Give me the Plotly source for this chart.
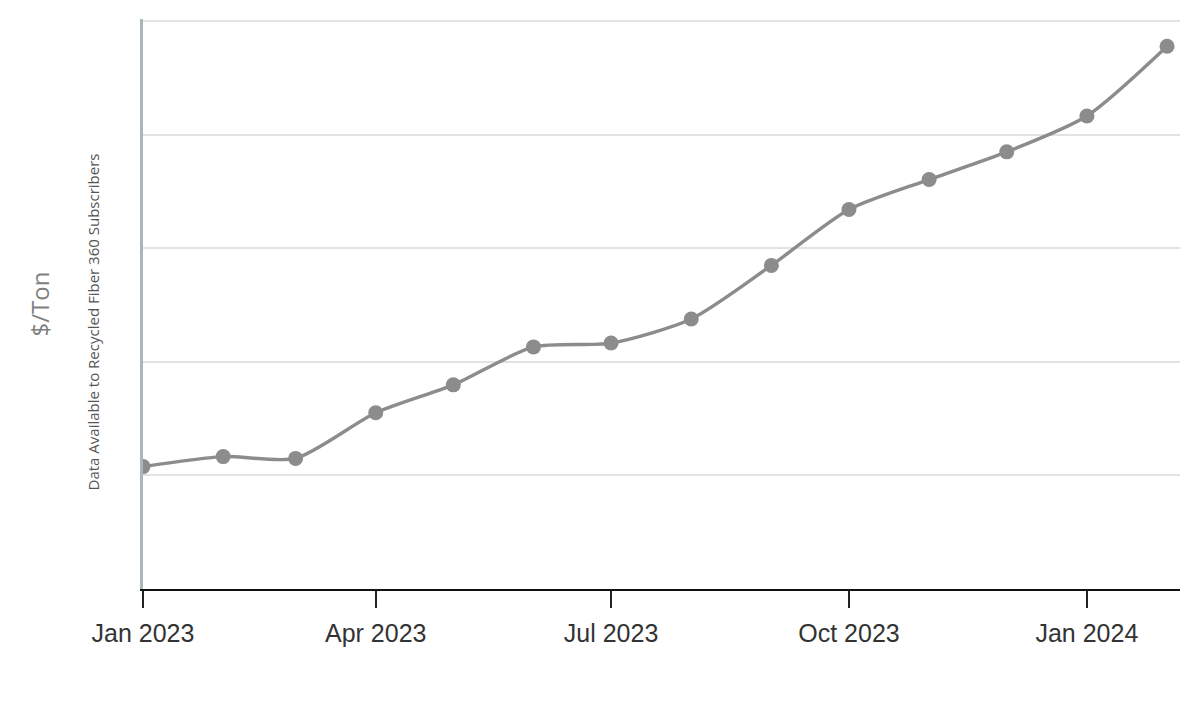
import plotly.graph_objects as go

# monthly price index ($/Ton)
months = ["2023-01-01", "2023-02-01", "2023-03-01", "2023-04-01", "2023-05-01",
          "2023-06-01", "2023-07-01", "2023-08-01", "2023-09-01", "2023-10-01",
          "2023-11-01", "2023-12-01", "2024-01-01", "2024-02-01"]
prices = [53.9, 58.3, 57.5, 77.6, 89.9, 106.6, 108.3, 118.9, 142.5, 167.1,
          180.3, 192.5, 208.3, 239.0]

tick_vals = ["2023-01-01", "2023-04-01", "2023-07-01", "2023-10-01", "2024-01-01"]
tick_text = ["Jan 2023", "Apr 2023", "Jul 2023", "Oct 2023", "Jan 2024"]

fig = go.Figure()
fig.add_trace(go.Scatter(
    x=months, y=prices, mode="lines+markers",
    line=dict(color="#8c8c8c", width=3.4, shape="spline", smoothing=0.7),
    marker=dict(color="#8c8c8c", size=15),
    hoverinfo="x+y", showlegend=False))

fig.update_layout(
    width=1200, height=706,
    margin=dict(l=135, r=28, t=11, b=125),
    plot_bgcolor="white", paper_bgcolor="white",
    font=dict(family="Liberation Sans, Arial, sans-serif", color="#333333"),
    xaxis=dict(
        range=["2023-01-01", "2024-02-06"],
        tickvals=tick_vals, ticktext=tick_text,
        tickfont=dict(size=25, color="#333333"),
        ticks="outside", ticklen=17, tickwidth=2, tickcolor="#222222",
        ticklabelstandoff=4,
        showline=True, linecolor="#111111", linewidth=2,
        showgrid=False, zeroline=False),
    yaxis=dict(
        range=[0, 251], tickvals=[50, 100, 150, 200, 250], showticklabels=False,
        showgrid=True, gridcolor="#e2e2e2", gridwidth=1.5,
        showline=True, linecolor="#a9b6ba", linewidth=3,
        zeroline=False,
        title=dict(text="$/Ton", font=dict(family="Open Sans, sans-serif", size=24, color="#808080"),
                   standoff=84)),
)

fig.add_annotation(
    text="Data Available to Recycled Fiber 360 Subscribers",
    xref="paper", yref="paper", x=-0.048, y=0.468,
    xanchor="center", yanchor="middle",
    textangle=-90, showarrow=False,
    font=dict(family="Open Sans, sans-serif", size=15, color="#555555"))

fig.write_html("out.html")
